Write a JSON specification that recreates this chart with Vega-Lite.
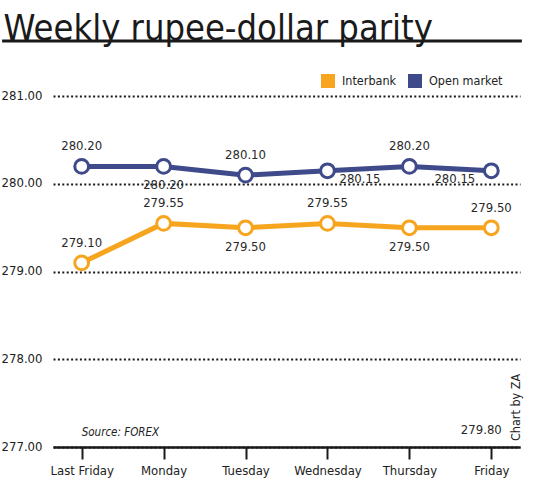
{
  "$schema": "https://vega.github.io/schema/vega-lite/v6.json",
  "background": "white",
  "padding": {"left": 0, "top": 10, "right": 10, "bottom": 2},
  "width": 467,
  "height": 406,
  "title": {
    "text": "Weekly rupee-dollar parity",
    "anchor": "start",
    "font": "DejaVu Sans Condensed",
    "fontSize": 36,
    "fontWeight": "normal",
    "color": "#1a1a1a",
    "offset": -8,
    "dx": 3
  },
  "config": {
    "font": "DejaVu Sans Condensed",
    "view": {"stroke": null},
    "axis": {"labelFont": "DejaVu Sans Condensed", "labelColor": "#222", "titleFont": "DejaVu Sans Condensed"},
    "legend": {"labelFont": "DejaVu Sans Condensed"}
  },
  "datasets": {
    "parity": [
      {"day": "Last Friday", "series": "Interbank", "rate": 279.10},
      {"day": "Monday", "series": "Interbank", "rate": 279.55},
      {"day": "Tuesday", "series": "Interbank", "rate": 279.50},
      {"day": "Wednesday", "series": "Interbank", "rate": 279.55},
      {"day": "Thursday", "series": "Interbank", "rate": 279.50},
      {"day": "Friday", "series": "Interbank", "rate": 279.50},
      {"day": "Last Friday", "series": "Open market", "rate": 280.20},
      {"day": "Monday", "series": "Open market", "rate": 280.20},
      {"day": "Tuesday", "series": "Open market", "rate": 280.10},
      {"day": "Wednesday", "series": "Open market", "rate": 280.15},
      {"day": "Thursday", "series": "Open market", "rate": 280.20},
      {"day": "Friday", "series": "Open market", "rate": 280.15}
    ]
  },
  "resolve": {"scale": {"x": "independent"}},
  "layer": [
    {
      "description": "underline below the headline, running the full width",
      "data": {"values": [{"start": -0.109, "end": 1.004}]},
      "mark": {"type": "rule", "color": "#1a1a1a", "strokeWidth": 3},
      "encoding": {
        "x": {"field": "start", "type": "quantitative", "scale": {"domain": [0, 1], "nice": false, "zero": false}, "axis": null},
        "x2": {"field": "end"},
        "y": {"datum": 281.63, "type": "quantitative", "scale": {"domain": [277, 281.63], "nice": false, "zero": false}}
      }
    },
    {
      "data": {"name": "parity"},
      "encoding": {
        "x": {
          "field": "day",
          "type": "nominal",
          "sort": ["Last Friday", "Monday", "Tuesday", "Wednesday", "Thursday", "Friday"],
          "scale": {"type": "point", "padding": 0.35},
          "axis": {
            "title": null,
            "labelAngle": 0,
            "labelFontSize": 13,
            "labelPadding": 5,
            "domainColor": "#1a1a1a",
            "domainWidth": 2.5,
            "tickColor": "#1a1a1a",
            "tickWidth": 2,
            "tickSize": 12,
            "grid": false
          }
        },
        "y": {
          "field": "rate",
          "type": "quantitative",
          "scale": {"domain": [277, 281.63], "nice": false, "zero": false},
          "axis": {
            "title": null,
            "values": [277, 278, 279, 280, 281],
            "format": ".2f",
            "labelFontSize": 13,
            "labelPadding": 11,
            "labelBaseline": "alphabetic",
            "labelOffset": 3,
            "ticks": false,
            "domain": false,
            "grid": true,
            "gridColor": "#1a1a1a",
            "gridWidth": 2,
            "gridDash": [2, 2.4]
          }
        }
      },
      "layer": [
        {
          "mark": {"type": "line", "strokeWidth": 5},
          "encoding": {
            "color": {
              "field": "series",
              "type": "nominal",
              "scale": {"domain": ["Interbank", "Open market"], "range": ["#f7a51e", "#3e4a8a"]},
              "legend": {
                "title": null,
                "orient": "none",
                "legendX": 268,
                "legendY": 33,
                "direction": "horizontal",
                "symbolType": "square",
                "symbolSize": 196,
                "symbolStrokeWidth": 0,
                "labelFontSize": 12.5,
                "labelColor": "#222",
                "labelOffset": 7,
                "columnPadding": 11,
                "encode": {
                  "symbols": {"update": {"fill": {"scale": "color", "field": "value"}, "fillOpacity": {"value": 1}}}
                }
              }
            }
          }
        },
        {
          "mark": {"type": "point", "shape": "circle", "filled": true, "fill": "white", "size": 190, "strokeWidth": 3, "opacity": 1},
          "encoding": {
            "stroke": {"field": "series", "type": "nominal", "scale": {"domain": ["Interbank", "Open market"], "range": ["#f7a51e", "#3e4a8a"]}, "legend": null}
          }
        },
        {
          "transform": [{"filter": "(datum.series == 'Open market' && indexof(['Last Friday', 'Tuesday', 'Thursday'], datum.day) >= 0) || (datum.series == 'Interbank' && indexof(['Last Friday', 'Monday', 'Wednesday', 'Friday'], datum.day) >= 0)"}],
          "mark": {"type": "text", "fontSize": 13, "color": "#2a2a2a", "baseline": "middle", "align": "center", "dy": -20},
          "encoding": {"text": {"field": "rate", "type": "quantitative", "format": ".2f"}}
        },
        {
          "transform": [{"filter": "(datum.series == 'Open market' && datum.day == 'Monday') || (datum.series == 'Interbank' && indexof(['Tuesday', 'Thursday'], datum.day) >= 0)"}],
          "mark": {"type": "text", "fontSize": 13, "color": "#2a2a2a", "baseline": "middle", "align": "center", "dy": 19},
          "encoding": {"text": {"field": "rate", "type": "quantitative", "format": ".2f"}}
        },
        {
          "transform": [{"filter": "datum.series == 'Open market' && datum.day == 'Wednesday'"}],
          "mark": {"type": "text", "fontSize": 13, "color": "#2a2a2a", "baseline": "middle", "align": "left", "dx": 12, "dy": 8},
          "encoding": {"text": {"field": "rate", "type": "quantitative", "format": ".2f"}}
        },
        {
          "transform": [{"filter": "datum.series == 'Open market' && datum.day == 'Friday'"}],
          "mark": {"type": "text", "fontSize": 13, "color": "#2a2a2a", "baseline": "middle", "align": "right", "dx": -16, "dy": 8},
          "encoding": {"text": {"field": "rate", "type": "quantitative", "format": ".2f"}}
        },
        {
          "transform": [{"filter": "datum.series == 'Interbank' && datum.day == 'Last Friday'"}],
          "mark": {"type": "text", "fontSize": 11.5, "fontStyle": "italic", "color": "#222", "align": "left", "baseline": "middle", "dy": -14},
          "encoding": {"y": {"datum": 277}, "text": {"value": "Source: FOREX"}}
        },
        {
          "transform": [{"filter": "datum.series == 'Interbank' && datum.day == 'Friday'"}],
          "mark": {"type": "text", "fontSize": 13, "color": "#2a2a2a", "align": "center", "baseline": "middle", "dx": -10, "dy": -17},
          "encoding": {"y": {"datum": 277}, "text": {"value": "279.80"}}
        },
        {
          "transform": [{"filter": "datum.series == 'Open market' && datum.day == 'Friday'"}],
          "mark": {"type": "text", "fontSize": 12.5, "color": "#222", "angle": 270, "align": "left", "baseline": "middle", "dx": 6, "dy": 25},
          "encoding": {"y": {"datum": 277}, "text": {"value": "Chart by ZA"}}
        }
      ]
    }
  ]
}
